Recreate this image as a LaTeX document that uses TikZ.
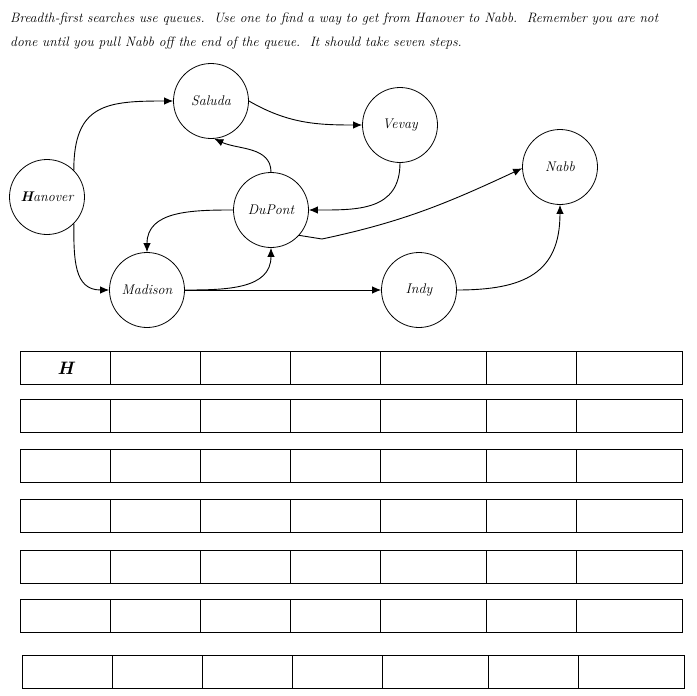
\documentclass[tikz,border=0pt]{standalone}
\usepackage{tikz}
\usetikzlibrary{arrows.meta}
\tikzset{
  town/.style={circle, draw, line width=0.8pt, minimum size=75pt, inner sep=0pt, font=\fontsize{14}{16}\selectfont\itshape},
  road/.style={-{Latex[length=9pt,width=7.5pt]}, line width=0.9pt},
  cell/.style={draw, line width=1.1pt, minimum height=33pt, inner sep=0pt, anchor=north west},
  note/.style={anchor=base west, inner sep=0pt, font=\fontsize{13.6}{24}\selectfont\itshape},
}

\begin{document}
\begin{tikzpicture}[x=1pt,y=1pt]
  \useasboundingbox (0,0) rectangle (697,-696);
  \node[note] (line1) at (10,-22) {Breadth-first searches use queues.\ \ Use one to find a way to get from Hanover to Nabb.\ \ Remember you are not};
  \node[note] (line2) at (10,-46) {done until you pull Nabb off the end of the queue.\ \ It should take seven steps.};
  \node[town] (han) at (47,-197) {\textbf{H}anover};
  \node[town] (sal) at (211,-101) {Saluda};
  \node[town] (vev) at (400,-125) {Vevay};
  \node[town] (dup) at (271,-210) {DuPont};
  \node[town] (nab) at (560,-167) {Nabb};
  \node[town] (mad) at (147,-290) {Madison};
  \node[town] (ind) at (419,-290) {Indy};
  \coordinate (kink) at (322,-239);
  \draw[road] (han.45) to[out=90,in=180,looseness=1.4] (sal.west);
  \draw[road] (han.-45) to[out=-90,in=180,looseness=1.2] (mad.west);
  \draw[road] (sal.east) to[out=-30,in=180] (vev.west);
  \draw[road] (dup.north) to[out=90,in=-25] (sal.-85);
  \draw[road] (vev.south) to[out=-90,in=0,looseness=1.2] (dup.east);
  \draw[road] (dup.west) to[out=180,in=90,looseness=1.1] (mad.north);
  \draw[road] (mad.east) to[out=0,in=-90,looseness=1.1] (dup.south);
  \draw[road] (mad.east) -- (ind.west);
  \draw[road] (dup.-42) -- (kink) to[out=12,in=-155] (nab.182);
  \draw[road] (ind.east) to[out=0,in=-90,looseness=1.3] (nab.south);
  \foreach \r/\y/\dx in {1/351/0,2/399/0,3/449/0,4/499/0,5/550/0,6/599/0,7/655/2}
    \foreach \c/\x/\w in {1/20/90,2/110/90,3/200/90,4/290/90,5/380/106,6/486/90,7/576/106}
      \node[cell, minimum width=\w pt] (q\r-\c) at (\x+\dx,-\y) {};
  \node[font=\fontsize{18}{20}\selectfont\bfseries\itshape] (start) at (q1-1.center) {H};
\end{tikzpicture}
\end{document}
